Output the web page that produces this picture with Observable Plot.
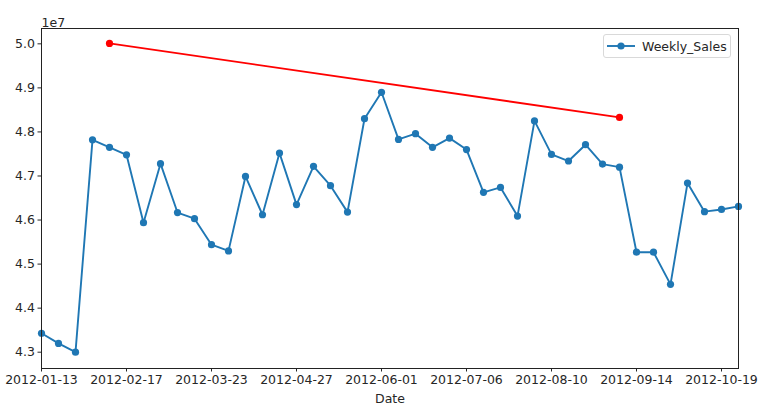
<!DOCTYPE html>
<html>
<head>
<meta charset="utf-8">
<script src="https://cdn.jsdelivr.net/npm/d3@7"></script>
<script src="https://cdn.jsdelivr.net/npm/@observablehq/plot@0.6"></script>
<style>
  html, body { margin: 0; padding: 0; background: #fff; }
  #wrap { position: relative; width: 769px; height: 417px; font-family: "DejaVu Sans", sans-serif; }
  #legend { position: absolute; left: 603px; top: 34px; width: 128px; height: 24px; border: 1px solid #d9d9d9; border-radius: 3px; background: rgba(255,255,255,0.8); box-sizing: border-box; font-size: 12.5px; color: #262626; display: flex; align-items: center; }
  #legend svg { margin-left: 3px; }
  #legend span { margin-left: 7px; }
</style>
</head>
<body>
<div id="wrap"></div>
<script>
const dates = ["2012-01-13","2012-01-20","2012-01-27","2012-02-03","2012-02-10","2012-02-17","2012-02-24",
  "2012-03-02","2012-03-09","2012-03-16","2012-03-23","2012-03-30","2012-04-06","2012-04-13","2012-04-20","2012-04-27",
  "2012-05-04","2012-05-11","2012-05-18","2012-05-25","2012-06-01","2012-06-08","2012-06-15","2012-06-22","2012-06-29",
  "2012-07-06","2012-07-13","2012-07-20","2012-07-27","2012-08-03","2012-08-10","2012-08-17","2012-08-24","2012-08-31",
  "2012-09-07","2012-09-14","2012-09-21","2012-09-28","2012-10-05","2012-10-12","2012-10-19","2012-10-26"];
const weeklySales = [43.43,43.20,43.00,47.82,47.65,47.48,45.94,47.28,46.17,46.03,45.44,45.30,46.99,46.12,47.52,46.35,
  47.22,46.78,46.18,48.30,48.90,47.83,47.96,47.65,47.86,47.60,46.63,46.74,46.09,48.25,47.49,47.34,47.71,47.27,
  47.20,45.27,45.27,44.54,46.84,46.19,46.24,46.31].map(v => v * 1e6);
const holidayDates = ["2012-02-10","2012-09-07"];
const holidaySales = [50.01e6, 48.33e6];
const xTicks = ["2012-01-13","2012-02-17","2012-03-23","2012-04-27","2012-06-01","2012-07-06","2012-08-10","2012-09-14","2012-10-19"];
const yTicks = [4.3,4.4,4.5,4.6,4.7,4.8,4.9,5.0].map(v => v * 1e7);

const parse = d3.utcParse("%Y-%m-%d");
const sales = dates.map((d, i) => ({date: parse(d), value: weeklySales[i]}));
const holidays = holidayDates.map((d, i) => ({date: parse(d), value: holidaySales[i]}));
const blue = "#1f77b4";

const chart = Plot.plot({
  width: 769,
  height: 417,
  marginLeft: 41,
  marginRight: 31,
  marginTop: 28,
  marginBottom: 49,
  style: {fontFamily: "DejaVu Sans, sans-serif", fontSize: "12.5px", color: "#262626", background: "#fff"},
  x: {type: "utc", domain: [parse("2012-01-13"), parse("2012-10-26")]},
  y: {domain: [42.63e6, 50.348e6]},
  marks: [
    Plot.axisX({ticks: xTicks.map(parse), tickFormat: d3.utcFormat("%Y-%m-%d"), tickSize: 3.5, tickPadding: 3, label: "Date", labelAnchor: "center", labelArrow: "none", labelOffset: 34}),
    Plot.axisY({ticks: yTicks, tickFormat: d => (d / 1e7).toFixed(1), tickSize: 3.5, tickPadding: 3, label: null}),
    Plot.text(["1e7"], {frameAnchor: "top-left", textAnchor: "start", dy: -10, fontSize: 12.5}),
    Plot.line(sales, {x: "date", y: "value", stroke: blue, strokeWidth: 1.9}),
    Plot.dot(sales, {x: "date", y: "value", fill: blue, r: 3.6}),
    Plot.line(holidays, {x: "date", y: "value", stroke: "red", strokeWidth: 1.9}),
    Plot.dot(holidays, {x: "date", y: "value", fill: "red", r: 3.6}),
    Plot.frame({stroke: "#222", strokeWidth: 1})
  ]
});
const wrap = document.getElementById("wrap");
wrap.appendChild(chart);
const legend = document.createElement("div");
legend.id = "legend";
legend.innerHTML = `<svg width="28" height="10"><line x1="0" y1="5" x2="28" y2="5" stroke="${blue}" stroke-width="1.9"/><circle cx="14" cy="5" r="3.6" fill="${blue}"/></svg><span>Weekly_Sales</span>`;
wrap.appendChild(legend);
</script>
</body>
</html>
